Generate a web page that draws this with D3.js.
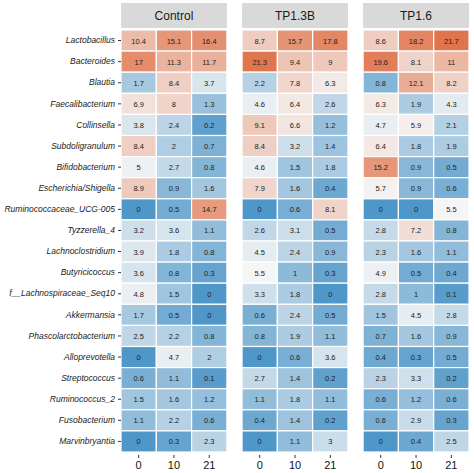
<!DOCTYPE html><html><head><meta charset="utf-8"><script src="https://cdn.jsdelivr.net/npm/d3@7"></script>
<style>body{margin:0;background:#fff}</style></head><body><svg id="c" width="474" height="473"></svg><script>
const taxa=["Lactobacillus","Bacteroides","Blautia","Faecalibacterium","Collinsella","Subdoligranulum","Bifidobacterium","Escherichia/Shigella","Ruminococcaceae_UCG-005","Tyzzerella_4","Lachnoclostridium","Butyricicoccus","f__Lachnospiraceae_Seq10","Akkermansia","Phascolarctobacterium","Alloprevotella","Streptococcus","Ruminococcus_2","Fusobacterium","Marvinbryantia"];
const groups=["Control","TP1.3B","TP1.6"];
const days=["0","10","21"];
const control=[[10.4,15.1,16.4],[17,11.3,11.7],[1.7,8.4,3.7],[6.9,8,1.3],[3.8,2.4,0.2],[8.4,2,0.7],[5,2.7,0.8],[8.9,0.9,1.6],[0,0.5,14.7],[3.2,3.6,1.1],[3.9,1.8,0.8],[3.6,0.8,0.3],[4.8,1.5,0],[1.7,0.5,0],[2.5,2.2,0.8],[0,4.7,2],[0.6,1.1,0.1],[1.5,1.6,1.2],[1.1,2.2,0.6],[0,0.3,2.3]];
const tp13b=[[8.7,15.7,17.8],[21.3,9.4,9],[2.2,7.8,6.3],[4.6,6.4,2.6],[9.1,6.6,1.2],[8.4,3.2,1.4],[4.6,1.5,1.8],[7.9,1.6,0.4],[0,0.6,8.1],[2.6,3.1,0.5],[4.5,2.4,0.9],[5.5,1,0.3],[3.3,1.8,0],[0.6,2.4,0.5],[0.8,1.9,1.1],[0,0.6,3.6],[2.7,1.4,0.2],[1.1,1.8,1.1],[0.4,1.4,0.2],[0,1.1,3]];
const tp16=[[8.6,18.2,21.7],[19.6,8.1,11],[0.8,12.1,8.2],[6.3,1.9,4.3],[4.7,5.9,2.1],[6.4,1.8,1.9],[15.2,0.9,0.5],[5.7,0.9,0.6],[0,0,5.5],[2.8,7.2,0.8],[2.3,1.6,1.1],[4.9,0.5,0.4],[2.8,1,0.1],[1.5,4.5,2.8],[0.7,1.6,0.9],[0.4,0.3,0.5],[2.3,3.3,0.2],[0.6,1.2,0.6],[0.6,2.9,0.3],[0,0.4,2.5]];
const data={"Control":control,"TP1.3B":tp13b,"TP1.6":tp16};
const svg=d3.select("#c");
const panelX=d3.scaleBand().domain(groups).range([121,469]).paddingInner(0.125);
const y=d3.scaleBand().domain(taxa).range([30,452]);
const col=d3.scaleLinear().domain([0,Math.log1p(5.5),Math.log1p(21.7)]).range(["#4f97c9","#f5f5f5","#e0744c"]).interpolate(d3.interpolateRgb);
const stroke="#fff";
groups.forEach(g=>{
  const px=panelX(g),pw=panelX.bandwidth();
  const x=d3.scaleBand().domain(days).range([px,px+pw]);
  const G=svg.append("g");
  G.append("rect").attr("x",px).attr("y",3).attr("width",pw).attr("height",25).attr("fill","#d9d9d9");
  G.append("text").attr("x",px+pw/2).attr("y",20).attr("text-anchor","middle").attr("font-family","Liberation Sans, Arial").attr("font-size",12).attr("fill","#1a1a1a").text(g);
  taxa.forEach((t,i)=>days.forEach((d,j)=>{
    const v=data[g][i][j];
    G.append("rect").attr("x",x(d)).attr("y",y(t)).attr("width",x.bandwidth()).attr("height",y.bandwidth()).attr("fill",col(Math.log1p(v))).attr("stroke",stroke).attr("stroke-width",1.2);
    G.append("text").attr("x",x(d)+x.bandwidth()/2).attr("y",y(t)+y.bandwidth()/2+3).attr("text-anchor","middle").attr("font-family","Liberation Sans, Arial").attr("font-size",7.5).attr("fill","#222").text(v);
  }));
  const ax=G.append("g").attr("transform","translate(0,455)").call(d3.axisBottom(x).tickSizeOuter(0).tickSizeInner(3).tickPadding(3));
  ax.select(".domain").remove();
  ax.selectAll("line").attr("stroke","#333");
  ax.selectAll("text").attr("font-family","Liberation Sans, Arial").attr("font-size",11).attr("fill","#111");
});
const ay=svg.append("g").attr("transform","translate(121,0)").call(d3.axisLeft(y).tickSizeOuter(0).tickSizeInner(3).tickPadding(3));
ay.select(".domain").remove();
ay.selectAll("line").attr("stroke","#333");
ay.selectAll("text").attr("font-family","Liberation Sans, Arial").attr("font-size",8.5).attr("font-style","italic").attr("fill","#222");
</script></body></html>
